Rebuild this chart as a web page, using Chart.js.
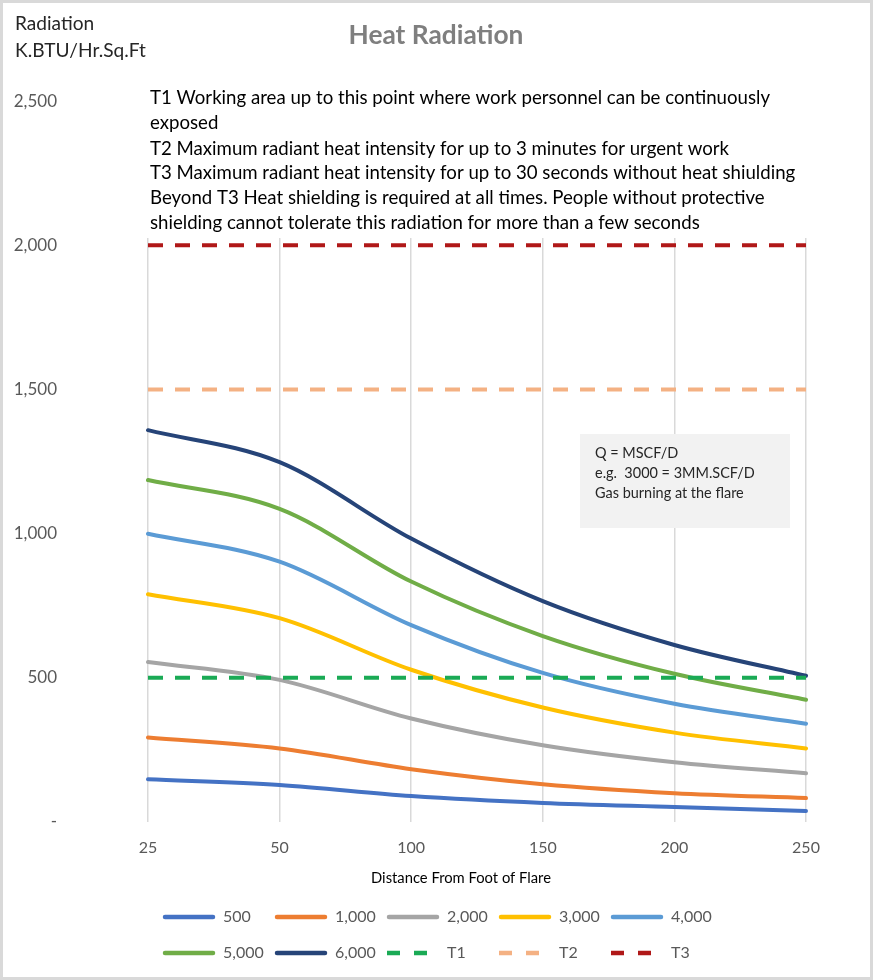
<!DOCTYPE html>
<html>
<head>
<meta charset="utf-8">
<script src="https://cdn.jsdelivr.net/npm/chart.js@4.4.1/dist/chart.umd.min.js"></script>
<style>html,body{margin:0;padding:0;background:#fff}canvas{display:block}</style>
</head>
<body>
<canvas id="c" width="873" height="980"></canvas>
<script>
// ---- data ----
const distances = ['25', '50', '100', '150', '200', '250'];
const seriesNames = ['500', '1,000', '2,000', '3,000', '4,000', '5,000', '6,000'];
const q500  = [148, 128, 90, 66, 52, 38];
const q1000 = [293, 255, 183, 131, 100, 83];
const q2000 = [555, 493, 359, 266, 207, 169];
const q3000 = [790, 707, 528, 397, 310, 255];
const q4000 = [1000, 903, 683, 517, 410, 341];
const q5000 = [1186, 1086, 834, 645, 514, 424];
const q6000 = [1359, 1248, 983, 766, 614, 507];
const thresholdNames = ['T1', 'T2', 'T3'];
const t1 = [500, 500, 500, 500, 500, 500];
const t2 = [1500, 1500, 1500, 1500, 1500, 1500];
const t3 = [2000, 2000, 2000, 2000, 2000, 2000];
const yTicks = [0, 500, 1000, 1500, 2000, 2500];
const chartTitle = 'Heat Radiation';
const yTitleLines = ['Radiation', 'K.BTU/Hr.Sq.Ft'];
const xTitle = 'Distance From Foot of Flare';
const notes = [
  'T1 Working area up to this point where work personnel can be continuously',
  'exposed',
  'T2 Maximum radiant heat intensity for up to 3 minutes for urgent work',
  'T3 Maximum radiant heat intensity for up to 30 seconds without heat shiulding',
  'Beyond T3 Heat shielding is required at all times. People without protective',
  'shielding cannot tolerate this radiation for more than a few seconds'
];
const boxNotes = ['Q = MSCF/D', 'e.g.  3000 = 3MM.SCF/D', 'Gas burning at the flare'];

// ---- styles ----
const FONT = 'Lato, "Open Sans", sans-serif';
const seriesColors = ['#4472C4', '#ED7D31', '#A5A5A5', '#FFC000', '#5B9BD5', '#70AD47', '#264478'];
const thresholdColors = ['#1AAA55', '#F4B183', '#B01818'];

const seriesValues = [q500, q1000, q2000, q3000, q4000, q5000, q6000];
const thresholdValues = [t1, t2, t3];

const datasets = [];
seriesValues.forEach((vals, i) => {
  datasets.push({
    label: seriesNames[i], data: vals, borderColor: seriesColors[i], backgroundColor: seriesColors[i],
    borderWidth: 4, pointRadius: 0, cubicInterpolationMode: 'monotone', fill: false, order: 1,
    borderCapStyle: 'round', borderJoinStyle: 'round'
  });
});
thresholdValues.forEach((vals, i) => {
  datasets.push({
    label: thresholdNames[i], data: vals, borderColor: thresholdColors[i], backgroundColor: thresholdColors[i],
    borderWidth: 4, pointRadius: 0, borderDash: [15, 12], borderCapStyle: 'butt', fill: false, order: 0
  });
});

function fitFont(ctx, text, width, weight, base) {
  ctx.font = weight + ' ' + base + 'px ' + FONT;
  const w = ctx.measureText(text).width;
  return base * width / w;
}

const decor = {
  id: 'decor',
  afterDraw(chart) {
    const ctx = chart.ctx;
    ctx.save();
    // cover gridlines behind the note block
    ctx.fillStyle = '#ffffff';
    ctx.fillRect(140, 86, 680, 152);

    // outer border
    ctx.strokeStyle = '#d9d9d9';
    ctx.lineWidth = 3;
    ctx.strokeRect(1.5, 1.5, 870, 977);

    // title
    let s = fitFont(ctx, chartTitle, 175, 'bold', 20);
    ctx.font = 'bold ' + s + 'px ' + FONT;
    ctx.fillStyle = '#7f7f7f';
    ctx.textAlign = 'center';
    ctx.textBaseline = 'middle';
    ctx.fillText(chartTitle, 436, 36);

    // y title
    s = fitFont(ctx, yTitleLines[1], 131, 'normal', 16);
    ctx.font = s + 'px ' + FONT;
    ctx.fillStyle = '#262626';
    ctx.textAlign = 'left';
    ctx.fillText(yTitleLines[0], 15, 24);
    ctx.fillText(yTitleLines[1], 15, 51);

    // notes
    s = fitFont(ctx, notes[3], 646, 'normal', 18);
    ctx.font = s + 'px ' + FONT;
    ctx.fillStyle = '#000000';
    const noteY = [98, 123, 149, 173, 198, 223];
    notes.forEach((t, i) => ctx.fillText(t, 150, noteY[i]));

    // grey box
    ctx.fillStyle = '#f2f2f2';
    ctx.fillRect(580, 434, 210, 94);
    s = fitFont(ctx, boxNotes[1], 160, 'normal', 14);
    ctx.font = s + 'px ' + FONT;
    ctx.fillStyle = '#262626';
    const boxY = [453, 473, 493];
    boxNotes.forEach((t, i) => ctx.fillText(t, 595, boxY[i]));

    // x title
    s = fitFont(ctx, xTitle, 180, 'normal', 14);
    ctx.font = s + 'px ' + FONT;
    ctx.fillStyle = '#000000';
    ctx.textAlign = 'center';
    ctx.fillText(xTitle, 461, 878);

    // legend (grid of 5 columns)
    const colX = [163, 275, 387, 499, 611];
    const rowY = [917, 953];
    ctx.font = '16px ' + FONT;
    ctx.textAlign = 'left';
    chart.data.datasets.forEach((ds, i) => {
      const x = colX[i % 5], y = rowY[Math.floor(i / 5)];
      ctx.beginPath();
      ctx.strokeStyle = ds.borderColor;
      ctx.lineWidth = 4.5;
      if (ds.borderDash) {
        ctx.setLineDash([13, 14]);
        ctx.lineCap = 'butt';
        ctx.moveTo(x, y); ctx.lineTo(x + 41, y);
      } else {
        ctx.setLineDash([]);
        ctx.lineCap = 'round';
        ctx.moveTo(x + 2, y); ctx.lineTo(x + 50, y);
      }
      ctx.stroke();
      ctx.setLineDash([]);
      ctx.fillStyle = '#595959';
      ctx.fillText(ds.label, x + 60, y);
    });
    ctx.restore();
  }
};

new Chart(document.getElementById('c'), {
  type: 'line',
  data: { labels: distances, datasets: datasets },
  options: {
    responsive: false,
    animation: false,
    devicePixelRatio: 1,
    layout: { padding: { top: 97, right: 67, bottom: 0, left: 0 } },
    plugins: { legend: { display: false }, title: { display: false }, tooltip: { enabled: false } },
    scales: {
      x: {
        type: 'category', offset: false,
        grid: { display: true, color: '#d9d9d9', lineWidth: 1.5, drawTicks: false },
        border: { display: false },
        ticks: { color: '#595959', font: { family: FONT, size: 16 }, padding: 16, maxRotation: 0, autoSkip: false },
        afterFit(scale) { scale.height = 158; }
      },
      y: {
        min: 0, max: 2500,
        afterBuildTicks(scale) { scale.ticks = yTicks.map(v => ({ value: v })); },
        grid: { display: false, drawTicks: false },
        border: { display: false },
        ticks: {
          color: '#595959', font: { family: FONT, size: 17 }, padding: 91,
          callback: v => v === 0 ? '-' : v.toLocaleString('en-US')
        },
        afterFit(scale) { scale.width = 148; }
      }
    }
  },
  plugins: [decor]
});
</script>
</body>
</html>
